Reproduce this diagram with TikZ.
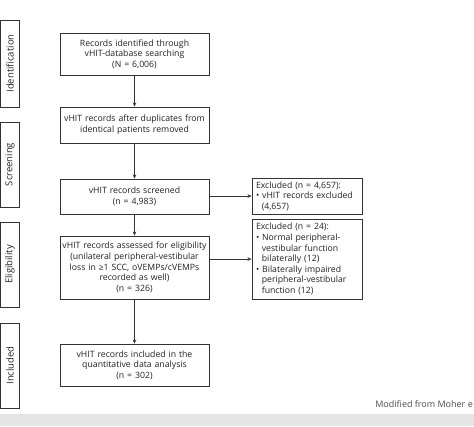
\documentclass[tikz,border=0pt]{standalone}
\usepackage{fontspec}
\setmainfont{Open Sans}
\usetikzlibrary{arrows.meta}
\definecolor{boxline}{HTML}{333333}
\definecolor{txt}{HTML}{222222}
\definecolor{band}{HTML}{E4E4E4}
\tikzset{
  mainbox/.style={draw=boxline, line width=0.9pt, fill=white, text=txt, font=\fontsize{8.7}{10.6}\selectfont, align=center, inner sep=0pt, minimum width=149, text width=147},
  exbox/.style={draw=boxline, line width=0.9pt, fill=white, text=txt, font=\fontsize{8.7}{10.6}\selectfont, align=left, inner sep=0pt, minimum width=110, text width=102},
  sidebox/.style={draw=boxline, line width=0.9pt, fill=white, text=txt, font=\fontsize{9.5}{10}\selectfont, rotate=90, inner sep=0pt, minimum height=19},
  flow/.style={draw=boxline, line width=0.9pt, -{Stealth[length=4pt,width=3.6pt]}}
}
\begin{document}
\begin{tikzpicture}[x=1pt,y=-1pt]
\useasboundingbox (0,0) rectangle (474,426);
\clip (0,0) rectangle (474,426);
\fill[band] (0,414) rectangle (474,426);
% side boxes
\node[sidebox, minimum width=87] (sid) at (10,63.5) {Identification};
\node[sidebox, minimum width=85] (sscr) at (10,164.5) {Screening};
\node[sidebox, minimum width=85] (selig) at (10,264.5) {Eligibility};
\node[sidebox, minimum width=85] (sinc) at (10,365.5) {Included};
% main boxes
\node[mainbox, minimum height=42] (b1) at (134.5,54) {Records identified through\\vHIT-database searching\\(N = 6,006)};
\node[mainbox, minimum height=36] (b2) at (134.5,125) {vHIT records after duplicates from\\identical patients removed};
\node[mainbox, minimum height=35] (b3) at (134.5,196.5) {vHIT records screened\\(n = 4,983)};
\node[mainbox, minimum height=63] (b4) at (134.5,267.5) {vHIT records assessed for eligibility\\(unilateral peripheral-vestibular\\loss in ≥1 SCC, oVEMPs/cVEMPs\\recorded as well)\\(n = 326)};
\node[mainbox, minimum height=42] (b5) at (134.5,365) {vHIT records included in the\\quantitative data analysis\\(n = 302)};
% exclusion boxes
\node[exbox, minimum height=36] (ea) at (307,196) {Excluded (n = 4,657):\\• vHIT records excluded\\\hspace*{5.8pt}(4,657)};
\node[exbox, minimum height=80] (eb) at (307,259) {Excluded (n = 24):\\• Normal peripheral-\\\hspace*{5.8pt}vestibular function\\\hspace*{5.8pt}bilaterally (12)\\• Bilaterally impaired\\\hspace*{5.8pt}peripheral-vestibular\\\hspace*{5.8pt}function (12)};
% connectors
\draw[flow] (b1) -- (b2);
\draw[flow] (b2) -- (b3);
\draw[flow] (b3) -- (b4);
\draw[flow] (b4) -- (b5);
\draw[flow] (b3.east |- ea.west) -- (ea.west);
\draw[flow] (b4.east |- eb.west) -- (eb.west);
% credit
\node[anchor=base east, inner sep=0pt, text=black!70, font=\fontsize{9}{10}\selectfont] (credit) at (473,407) {Modified from Moher e};
\end{tikzpicture}
\end{document}
